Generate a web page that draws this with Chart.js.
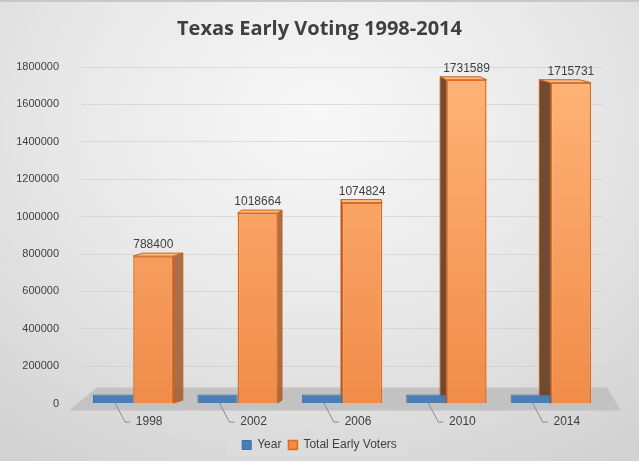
<!DOCTYPE html>
<html>
<head>
<meta charset="utf-8">
<title>Texas Early Voting 1998-2014</title>
<script src="https://cdn.jsdelivr.net/npm/chart.js@4/dist/chart.umd.min.js"></script>
<style>
    html, body { margin: 0; padding: 0; }
    body {
        width: 639px;
        height: 461px;
        overflow: hidden;
        background: radial-gradient(ellipse 80% 90% at 50% 25%, #f8f8f8 0%, #e8e8e8 50%, #d2d2d2 100%);
        border-top: 2px solid #c8c8c8;
        box-sizing: border-box;
    }
    #wrap { position: relative; width: 639px; height: 459px; }
</style>
</head>
<body>
<div id="wrap"><canvas id="votingChart"></canvas></div>
<script>
'use strict';

// ---- data ----
const years = ['1998', '2002', '2006', '2010', '2014'];
const yearValues = [1998, 2002, 2006, 2010, 2014];
const earlyVoters = [788400, 1018664, 1074824, 1731589, 1715731];
const yTicks = [0, 200000, 400000, 600000, 800000, 1000000, 1200000, 1400000, 1600000, 1800000];

// front face: lighter towards the top
function orangeFill(context) {
    const area = context.chart.chartArea;
    if (!area) return '#f7904d';
    const g = context.chart.ctx.createLinearGradient(0, area.top, 0, area.bottom);
    g.addColorStop(0, '#ffb478');
    g.addColorStop(1, '#f08c4a');
    return g;
}

// floor band, faux 3D faces, value labels, legend panel
const floorPlugin = {
    id: 'floor',
    beforeDraw(chart) {
        const ctx = chart.ctx;
        const boxes = chart.legend && chart.legend.legendHitBoxes;
        if (boxes && boxes.length) {
            const l = Math.min(...boxes.map(b => b.left)) - 15;
            const r = Math.max(...boxes.map(b => b.left + b.width)) + 10;
            const t = boxes[0].top - 5;
            ctx.save();
            ctx.fillStyle = '#dcdcdc';
            ctx.fillRect(l, t, r - l, boxes[0].height + 10);
            ctx.restore();
        }
    },
    beforeDatasetsDraw(chart) {
        const ctx = chart.ctx;
        const area = chart.chartArea;
        const base = chart.scales.y.getPixelForValue(0);
        ctx.save();
        ctx.fillStyle = '#c2c2c2';
        ctx.beginPath();
        ctx.moveTo(area.left + 16, base - 16);
        ctx.lineTo(area.right + 4, base - 16);
        ctx.lineTo(area.right + 18, base + 7);
        ctx.lineTo(area.left - 12, base + 7);
        ctx.closePath();
        ctx.fill();

        // side and top faces of the orange bars
        const meta = chart.getDatasetMeta(1);
        const mid = (area.left + area.right) / 2;
        meta.data.forEach(bar => {
            const half = bar.width / 2;
            const x0 = bar.x - half;
            const x1 = bar.x + half;
            const d = (mid - bar.x) * 0.05;
            const depth = 3;
            const edge = d >= 0 ? x1 : x0;
            ctx.fillStyle = d >= 0 ? 'rgba(160,90,45,0.85)' : 'rgba(105,65,40,0.95)';
            ctx.beginPath();
            ctx.moveTo(edge, bar.y);
            ctx.lineTo(edge + d, bar.y - depth);
            ctx.lineTo(edge + d, bar.base - depth);
            ctx.lineTo(edge, bar.base);
            ctx.closePath();
            ctx.fill();
            ctx.strokeStyle = '#c65f1a';
            ctx.lineWidth = 1;
            ctx.stroke();
            ctx.fillStyle = '#ffbd85';
            ctx.beginPath();
            ctx.moveTo(x0, bar.y);
            ctx.lineTo(x1, bar.y);
            ctx.lineTo(x1 + d, bar.y - depth);
            ctx.lineTo(x0 + d, bar.y - depth);
            ctx.closePath();
            ctx.fill();
            ctx.stroke();
        });
        ctx.restore();
    },
    afterDatasetsDraw(chart) {
        const ctx = chart.ctx;
        const meta = chart.getDatasetMeta(1);
        const blue = chart.getDatasetMeta(0);
        ctx.save();
        ctx.font = '12px "Liberation Sans", Arial, sans-serif';
        ctx.fillStyle = '#404040';
        ctx.textAlign = 'center';
        ctx.textBaseline = 'bottom';
        meta.data.forEach((bar, i) => {
            ctx.fillText(String(earlyVoters[i]), bar.x, bar.y - 5);
        });
        // leader lines to the category labels
        ctx.strokeStyle = '#8c8c8c';
        ctx.lineWidth = 1;
        blue.data.forEach(bar => {
            const bx = bar.x + 2;
            const by = bar.base;
            ctx.beginPath();
            ctx.moveTo(bx, by);
            ctx.lineTo(bx + 10, by + 19);
            ctx.lineTo(bx + 15, by + 19);
            ctx.stroke();
        });
        ctx.restore();
    }
};

const ctx = document.getElementById('votingChart');
new Chart(ctx, {
    type: 'bar',
    data: {
        labels: years,
        datasets: [
            {
                label: 'Year',
                data: yearValues,
                backgroundColor: '#4a7fb5',
                borderColor: '#3a6ea5',
                borderWidth: 1,
                minBarLength: 9,
                categoryPercentage: 0.77,
                barPercentage: 1.0
            },
            {
                label: 'Total Early Voters',
                data: earlyVoters,
                backgroundColor: orangeFill,
                borderColor: '#e06a1e',
                borderWidth: 1.5,
                categoryPercentage: 0.77,
                barPercentage: 1.0
            }
        ]
    },
    options: {
        responsive: true,
        maintainAspectRatio: false,
        animation: false,
        layout: {
            padding: { top: 0, right: 0, bottom: 0, left: 0 }
        },
        plugins: {
            title: {
                display: true,
                text: 'Texas Early Voting 1998-2014',
                color: '#404040',
                font: { family: '"Open Sans", sans-serif', size: 20, weight: 'bold' },
                padding: { top: 15, bottom: 26 }
            },
            legend: {
                display: true,
                position: 'bottom',
                labels: {
                    color: '#404040',
                    font: { family: '"Liberation Sans", Arial, sans-serif', size: 12 },
                    boxWidth: 9,
                    boxHeight: 9,
                    padding: 7,
                    generateLabels(chart) {
                        const items = Chart.defaults.plugins.legend.labels.generateLabels(chart);
                        items[1].fillStyle = '#f28b46';
                        return items;
                    }
                }
            },
            tooltip: { enabled: false }
        },
        scales: {
            x: {
                grid: { display: false },
                border: { display: false },
                ticks: {
                    color: '#404040',
                    font: { family: '"Liberation Sans", Arial, sans-serif', size: 12 },
                    labelOffset: 16,
                    padding: 3
                }
            },
            y: {
                min: 0,
                max: 1800000,
                afterBuildTicks(axis) {
                    axis.ticks = yTicks.map(v => ({ value: v }));
                },
                afterFit(axis) { axis.width = 81; },
                grid: { color: 'rgba(200,200,200,0.55)', drawTicks: false },
                border: { display: false },
                ticks: {
                    color: '#404040',
                    font: { family: '"Liberation Sans", Arial, sans-serif', size: 11 },
                    padding: 22,
                    callback: v => String(v)
                }
            },
            // empty right-hand spacer so the plot ends where the reference does
            spacer: {
                type: 'linear',
                position: 'right',
                display: true,
                grid: { display: false },
                border: { display: false },
                ticks: { display: false },
                afterFit(axis) { axis.width = 36; }
            }
        }
    },
    plugins: [floorPlugin]
});
</script>
</body>
</html>
